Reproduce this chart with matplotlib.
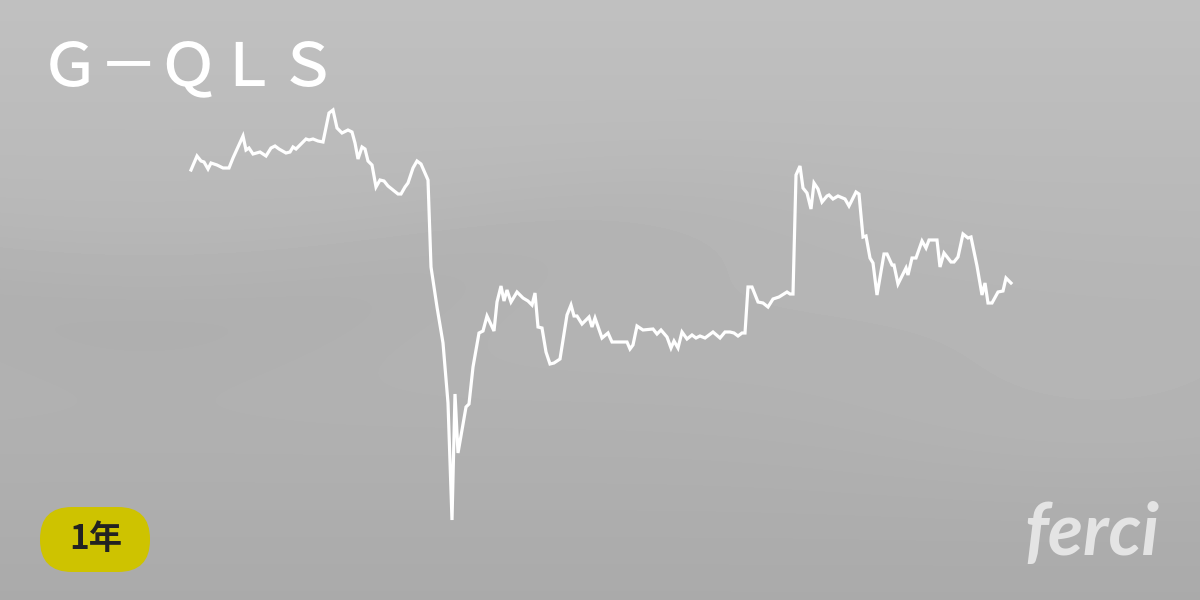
import matplotlib
matplotlib.use("Agg")
import matplotlib.pyplot as plt
from matplotlib.patches import FancyBboxPatch
import numpy as np

# 1-year price trace (day offset, value)
days = [1, 7, 11, 14, 18, 21, 27, 33, 39, 43, 53, 56, 59, 63, 70, 76, 81, 85, 89, 96,
        100, 103, 106, 110, 116, 119, 123, 128, 133, 139, 143, 147, 152, 158, 162, 165,
        168, 172, 175, 178, 182, 186, 190, 194, 198, 208, 211, 215, 218, 223, 227, 231,
        238, 241, 247, 253, 258, 262, 265, 268, 276, 279, 283, 289, 293, 297, 304, 307,
        311, 314, 317, 321, 327, 333, 338, 342, 345, 348, 352, 356, 360, 364, 370, 377,
        381, 384, 387, 392, 399, 402, 405, 412, 418, 422, 437, 440, 443, 447, 453, 463,
        467, 471, 477, 481, 484, 488, 492, 497, 502, 506, 510, 515, 523, 530, 535, 540,
        544, 548, 552, 555, 558, 562, 568, 573, 578, 583, 589, 597, 600, 603, 606, 610,
        613, 617, 621, 624, 628, 632, 637, 639, 643, 648, 655, 659, 666, 669, 673, 676,
        680, 683, 687, 694, 697, 702, 704, 708, 716, 718, 722, 726, 732, 736, 739, 747,
        750, 754, 761, 764, 768, 773, 778, 781, 787, 792, 795, 798, 802, 808, 813, 816,
        821]
values = [430, 444, 439, 438, 431, 437, 435, 432, 432, 442, 464, 450, 452, 446, 448, 444,
          452, 454, 451, 447, 448, 453, 451, 455, 461, 460, 461, 459, 458, 487, 490, 472,
          467, 470, 468, 457, 441, 453, 451, 439, 435, 413, 420, 419, 414, 406, 406, 413,
          417, 432, 439, 436, 420, 333, 293, 257, 197, 80, 206, 147, 193, 196, 233, 267,
          269, 284, 269, 298, 314, 299, 310, 298, 308, 302, 299, 295, 307, 273, 272, 248,
          236, 237, 241, 285, 295, 284, 284, 276, 283, 273, 282, 262, 267, 258, 258, 251,
          255, 274, 270, 271, 266, 270, 263, 252, 259, 252, 268, 261, 265, 262, 264, 262,
          268, 262, 268, 268, 267, 264, 267, 267, 313, 313, 298, 297, 293, 301, 303, 308,
          306, 306, 425, 434, 412, 407, 391, 417, 411, 398, 404, 405, 401, 404, 401, 394,
          408, 406, 363, 364, 342, 337, 305, 346, 346, 335, 335, 316, 332, 325, 342, 342,
          359, 352, 360, 360, 333, 347, 338, 338, 343, 366, 362, 363, 334, 305, 317, 297,
          297, 308, 309, 322, 317]

title = "Ｇ－ＱＬＳ"
period = "1年"
brand = "ferci"

fig = plt.figure(figsize=(12, 6), dpi=100)

# soft grey gradient background with a gentle wave
bg = fig.add_axes([0, 0, 1, 1], zorder=0)
yy, xx = np.mgrid[0:600, 0:1200]
wave = 270 + 45 * np.sin(xx / 1200 * 2 * np.pi + 0.8)
fade = 1 / (1 + np.exp((xx - 750) / 120))
shade = 192 - 22 * (yy / 600) - 5 * np.exp(-((yy - wave) / 70) ** 2) * fade
shade += 3 * np.exp(-((xx - 1100) / 250) ** 2 - ((yy - 410) / 80) ** 2)
bg.imshow(shade / 255, cmap="gray", vmin=0, vmax=1, extent=[0, 1200, 600, 0],
          aspect="auto", interpolation="bilinear")
bg.set_xlim(0, 1200)
bg.set_ylim(600, 0)
bg.axis("off")

# price line
ax = fig.add_axes([0, 0, 1, 1], zorder=1)
ax.patch.set_alpha(0)
ax.plot(days, values, color="white", lw=2.3, solid_joinstyle="miter")
ax.set_xlim(-190, 1010)
ax.set_ylim(0, 600)
ax.axis("off")

# overlay in pixel units for the labels
ov = fig.add_axes([0, 0, 1, 1], zorder=2)
ov.patch.set_alpha(0)
ov.set_xlim(0, 1200)
ov.set_ylim(600, 0)
ov.axis("off")

ov.text(40, 85, title, color="white", fontsize=43, fontweight="medium",
        family=["Noto Sans CJK JP", "DejaVu Sans"], va="baseline", ha="left")

pill = FancyBboxPatch((40, 507), 110, 65, boxstyle="round,pad=0,rounding_size=32",
                      fc="#cec300", ec="none")
ov.add_patch(pill)
ov.text(96, 540, period, color="#222222", fontsize=24, fontweight="bold",
        family=["Noto Sans CJK JP", "DejaVu Sans"], ha="center", va="center")

ov.text(1092, 555, brand, color="#e4e4e4", fontsize=52, fontweight="bold", style="italic",
        family=["Lato", "DejaVu Sans"], ha="center", va="baseline")

fig.savefig("out.png", dpi=100)
